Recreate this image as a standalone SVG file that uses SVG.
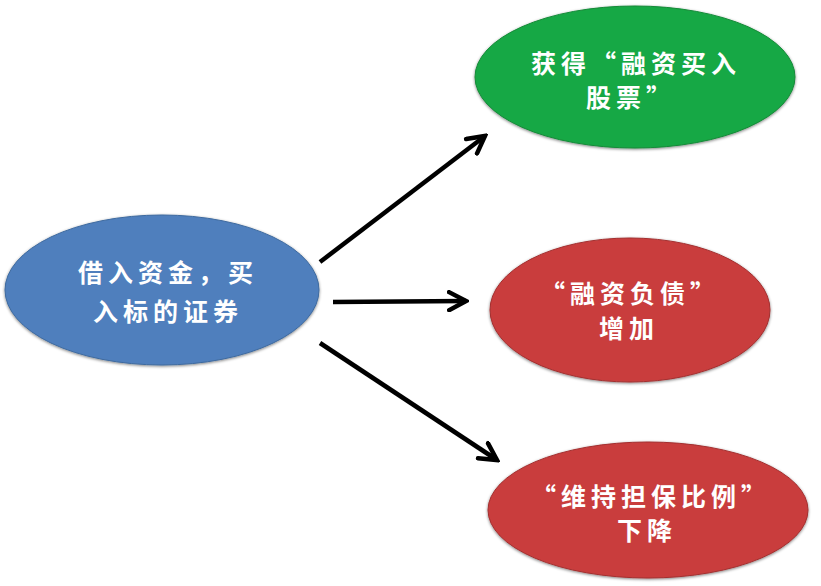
<svg xmlns="http://www.w3.org/2000/svg" width="821" height="586" viewBox="0 0 821 586">
<defs>
<style>
.t{font-family:"Noto Sans CJK SC","Liberation Sans",sans-serif;font-size:25px;font-weight:bold;letter-spacing:5px;fill:#fff;text-anchor:middle;dominant-baseline:central}
.c{stroke:#000;stroke-width:4.5;fill:none;marker-end:url(#ah)}
</style>
<marker id="ah" viewBox="0 0 10 10" refX="8.5" refY="5" markerWidth="5" markerHeight="5" orient="auto" markerUnits="strokeWidth">
<path d="M1,1 L8.5,5 L1,9" fill="none" stroke="#000" stroke-width="2" stroke-linecap="round" stroke-linejoin="miter"/>
</marker>
<filter id="sh" x="-10%" y="-10%" width="120%" height="120%">
<feGaussianBlur in="SourceAlpha" stdDeviation="1.5"/>
<feOffset dx="0" dy="1" result="b"/>
<feComponentTransfer><feFuncA type="linear" slope="0.5"/></feComponentTransfer>
<feMerge><feMergeNode/><feMergeNode in="SourceGraphic"/></feMerge>
</filter>
</defs>
<rect width="821" height="586" fill="#fff"/>
<g id="connectors">
<line class="c" x1="320" y1="262" x2="485" y2="136"/>
<line class="c" x1="333" y1="302" x2="466" y2="301"/>
<line class="c" x1="320" y1="343" x2="497" y2="460"/>
</g>
<g id="n-borrow">
<ellipse cx="162" cy="290" rx="157" ry="75" fill="#4f7fbd" stroke="#3e6a9f" stroke-width="1" filter="url(#sh)"/>
<text class="t" x="168" y="271">借入资金，买</text>
<text class="t" x="168" y="310">入标的证券</text>
</g>
<g id="n-stock">
<ellipse cx="635" cy="77" rx="160" ry="71" fill="#17a844" stroke="#138a38" stroke-width="1" filter="url(#sh)"/>
<text class="t" x="636" y="62">获得“融资买入</text>
<text class="t" x="631" y="96">股票”</text>
</g>
<g id="n-debt">
<ellipse cx="630" cy="310" rx="140" ry="72" fill="#c93d3d" stroke="#a33030" stroke-width="1" filter="url(#sh)"/>
<text class="t" x="630" y="292">“融资负债”</text>
<text class="t" x="629" y="327">增加</text>
</g>
<g id="n-ratio">
<ellipse cx="648" cy="510" rx="160" ry="68" fill="#c93d3d" stroke="#a33030" stroke-width="1" filter="url(#sh)"/>
<text class="t" x="651" y="495">“维持担保比例”</text>
<text class="t" x="647" y="529">下降</text>
</g>
</svg>
